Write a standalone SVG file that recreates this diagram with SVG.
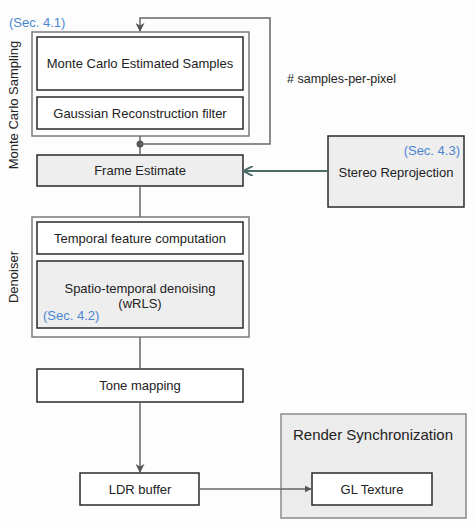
<svg xmlns="http://www.w3.org/2000/svg" width="474" height="527" viewBox="0 0 474 527">
<defs>
<marker id="ah" viewBox="0 0 10 10" refX="9" refY="5" markerWidth="7" markerHeight="7" orient="auto" markerUnits="userSpaceOnUse"><path d="M0,0 L10,5 L0,10 z" fill="#555"/></marker>
<marker id="ahv" viewBox="0 0 10 10" refX="9" refY="5" markerWidth="9" markerHeight="9" orient="auto" markerUnits="userSpaceOnUse"><path d="M0,0 L10,5 L0,10 L3,5 z" fill="#555"/></marker>
<marker id="aht" viewBox="0 0 10 10" refX="9" refY="5" markerWidth="10" markerHeight="10" orient="auto" markerUnits="userSpaceOnUse"><path d="M0,0 L10,5 L0,10" fill="none" stroke="#4d6b66" stroke-width="2"/></marker>
</defs>
<style>
text{font-family:"Liberation Sans",Arial,sans-serif;font-size:13px;fill:#222}
.sec{fill:#4a86d0}
.big{font-size:15px}
.small{font-size:12.5px}
.outer{fill:none;stroke:#7a7a7a;stroke-width:1.5}
.inner{fill:#fff;stroke:#2a2a2a;stroke-width:1.5}
.gray{fill:#eeeeee;stroke:#2a2a2a;stroke-width:1.5}
.conn{fill:none;stroke:#666;stroke-width:1.5}
</style>
<rect width="474" height="527" fill="#fdfdfd"/>
<g id="mc-group">
<rect class="outer" x="32" y="32" width="217" height="104"/>
<text class="sec" x="9" y="27">(Sec. 4.1)</text>
<text transform="translate(18,105) rotate(-90)" text-anchor="middle">Monte Carlo Sampling</text>
</g>
<g id="mc-samples">
<rect class="inner" x="37" y="37" width="206" height="53"/>
<text x="140" y="68" text-anchor="middle">Monte Carlo Estimated Samples</text>
</g>
<g id="gauss">
<rect class="inner" x="37" y="97" width="206" height="32"/>
<text x="140" y="118" text-anchor="middle">Gaussian Reconstruction filter</text>
</g>
<g id="frame-estimate">
<rect class="gray" x="37" y="155" width="206" height="31"/>
<text x="140" y="175" text-anchor="middle">Frame Estimate</text>
</g>
<g id="stereo">
<rect class="gray" x="328" y="136" width="136" height="71"/>
<text class="sec" x="460" y="155" text-anchor="end">(Sec. 4.3)</text>
<text x="396" y="177" text-anchor="middle">Stereo Reprojection</text>
</g>
<g id="spp-label">
<text class="small" x="287" y="83">#&#160;samples-per-pixel</text>
</g>
<g id="denoiser-group">
<rect class="outer" x="32" y="217" width="217" height="120"/>
<text transform="translate(18,277) rotate(-90)" text-anchor="middle">Denoiser</text>
</g>
<g id="temporal">
<rect class="inner" x="37" y="222" width="206" height="32"/>
<text x="140" y="243" text-anchor="middle">Temporal feature computation</text>
</g>
<g id="spatio">
<rect class="gray" x="37" y="261" width="206" height="67"/>
<text x="140" y="293" text-anchor="middle">Spatio-temporal denoising</text>
<text x="140" y="308" text-anchor="middle">(wRLS)</text>
<text class="sec" x="43" y="320">(Sec. 4.2)</text>
</g>
<g id="tone">
<rect class="inner" x="37" y="369" width="206" height="33"/>
<text x="140" y="390" text-anchor="middle">Tone mapping</text>
</g>
<g id="render-sync">
<rect x="281" y="414" width="185" height="104" fill="#ececec" stroke="#8a8a8a" stroke-width="1.5"/>
<text class="big" x="373" y="440" text-anchor="middle">Render Synchronization</text>
</g>
<g id="ldr">
<rect class="inner" x="80" y="473" width="119" height="32"/>
<text x="140" y="494" text-anchor="middle">LDR buffer</text>
</g>
<g id="gl">
<rect class="inner" x="312" y="473" width="120" height="32"/>
<text x="372" y="494" text-anchor="middle">GL Texture</text>
</g>
<g id="connectors">
<line class="conn" x1="140" y1="136" x2="140" y2="155"/>
<circle cx="140" cy="144" r="3.5" fill="#555"/>
<polyline class="conn" points="140,144 270,144 270,18 140,18 140,31" marker-end="url(#ahv)"/>
<line x1="328" y1="171" x2="244" y2="171" stroke="#4d6b66" stroke-width="1.8" marker-end="url(#aht)"/>
<line class="conn" x1="140" y1="186" x2="140" y2="217"/>
<line class="conn" x1="140" y1="337" x2="140" y2="369"/>
<line class="conn" x1="140" y1="402" x2="140" y2="472" marker-end="url(#ahv)"/>
<line class="conn" x1="199" y1="489" x2="311" y2="489" marker-end="url(#ah)"/>
</g>
</svg>
